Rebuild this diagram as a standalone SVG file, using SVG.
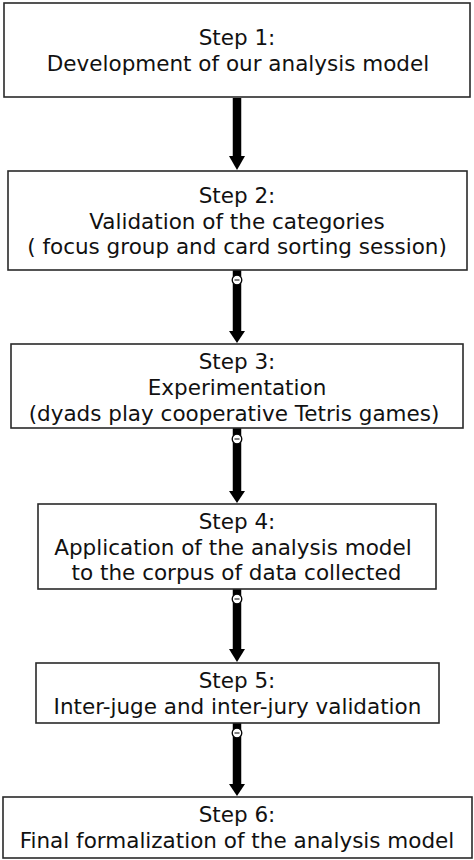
<svg xmlns="http://www.w3.org/2000/svg" width="474" height="860" viewBox="0 0 474 860">
<defs>
<style>
.box{fill:#fff;stroke:#2a2a2a;stroke-width:1.6}
.t{font-family:"DejaVu Sans",sans-serif;font-size:21.5px;fill:#111;text-anchor:middle}
.shaft{stroke:#000;stroke-width:8.5;fill:none}
.head{fill:#000}
.knob{fill:#fff;stroke:#000;stroke-width:1.3}
.minus{stroke:#000;stroke-width:1}
</style>
</defs>
<rect width="474" height="860" fill="#fff"/>
<g id="connectors">
<line class="shaft" x1="237" y1="98" x2="237" y2="158"/>
<path class="head" d="M229,156 L245,156 L237,170 Z"/>
<line class="shaft" x1="237" y1="270" x2="237" y2="334"/>
<path class="head" d="M229,331 L245,331 L237,343 Z"/>
<circle class="knob" cx="237" cy="280" r="4.8"/><line class="minus" x1="234.5" y1="280" x2="239.5" y2="280"/>
<line class="shaft" x1="237" y1="428" x2="237" y2="493"/>
<path class="head" d="M229,491 L245,491 L237,503 Z"/>
<circle class="knob" cx="237" cy="439" r="4.8"/><line class="minus" x1="234.5" y1="439" x2="239.5" y2="439"/>
<line class="shaft" x1="237" y1="589" x2="237" y2="651"/>
<path class="head" d="M229,649 L245,649 L237,662 Z"/>
<circle class="knob" cx="237" cy="599" r="4.8"/><line class="minus" x1="234.5" y1="599" x2="239.5" y2="599"/>
<line class="shaft" x1="237" y1="723" x2="237" y2="786"/>
<path class="head" d="M229,784 L245,784 L237,796 Z"/>
<circle class="knob" cx="237" cy="733" r="4.8"/><line class="minus" x1="234.5" y1="733" x2="239.5" y2="733"/>
</g>
<g id="step1">
<rect class="box" x="4" y="3" width="466" height="94"/>
<text class="t" x="237" y="45">Step 1:</text>
<text class="t" x="238" y="71">Development of our analysis model</text>
</g>
<g id="step2">
<rect class="box" x="8" y="171" width="459" height="99"/>
<text class="t" x="237" y="203">Step 2:</text>
<text class="t" x="237" y="228.5">Validation of the categories</text>
<text class="t" x="237" y="254">( focus group and card sorting session)</text>
</g>
<g id="step3">
<rect class="box" x="11" y="344" width="452" height="84"/>
<text class="t" x="237" y="369">Step 3:</text>
<text class="t" x="237" y="395">Experimentation</text>
<text class="t" x="234" y="420.5">(dyads play cooperative Tetris games)</text>
</g>
<g id="step4">
<rect class="box" x="38" y="504" width="398" height="85"/>
<text class="t" x="237" y="529">Step 4:</text>
<text class="t" x="233" y="555">Application of the analysis model</text>
<text class="t" x="236.5" y="579.5">to the corpus of data collected</text>
</g>
<g id="step5">
<rect class="box" x="36" y="663" width="403" height="60"/>
<text class="t" x="237" y="688">Step 5:</text>
<text class="t" x="237.5" y="714">Inter-juge and inter-jury validation</text>
</g>
<g id="step6">
<rect class="box" x="3" y="797" width="469" height="61"/>
<text class="t" x="237" y="821.5">Step 6:</text>
<text class="t" x="237" y="848">Final formalization of the analysis model</text>
</g>
</svg>
